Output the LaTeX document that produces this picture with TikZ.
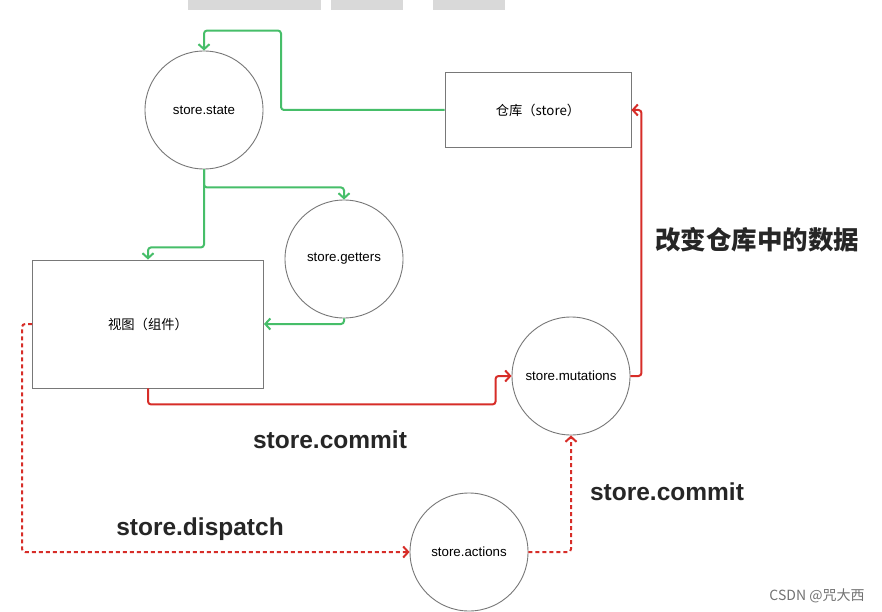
\documentclass[tikz,border=0pt]{standalone}
\usepackage{fontspec}
\setmainfont{Liberation Sans}
\newfontfamily\cjk{Noto Sans CJK SC}
\usetikzlibrary{positioning,arrows.meta}
\definecolor{flowgreen}{RGB}{70,190,105}
\definecolor{flowred}{RGB}{215,45,40}
\definecolor{edgegray}{RGB}{120,120,120}

\begin{document}
\begin{tikzpicture}[x=1pt, y=-1pt, semithick,
                    state/.style ={circle, draw=edgegray, line width=0.9pt, minimum size=118pt, inner sep=0pt, font=\fontsize{13.3}{15}\selectfont},
                    box/.style ={rectangle, draw=edgegray, line width=0.9pt, inner sep=0pt, font=\fontsize{13.3}{15}\selectfont},
                    getflow/.style ={draw=flowgreen, line width=2pt, rounded corners=3pt, -{Straight Barb[length=5pt,width=11pt]}},
                    setflow/.style ={draw=flowred, line width=2pt, rounded corners=3pt, -{Straight Barb[length=5pt,width=11pt]}},
                    callflow/.style ={setflow, dash pattern=on 4pt off 3pt},
                    tag/.style ={font=\fontsize{24.5}{27}\selectfont\bfseries, text=black!85}]

\useasboundingbox[fill=white] (0,0) rectangle (882,612);

% cut off header strips
\fill[black!15] (188,0) rectangle (321,10);
\fill[black!15] (331,0) rectangle (403,10);
\fill[black!15] (433,0) rectangle (505,10);

% store nodes
\node[state] (state) at (204,110) {store.state};
\node[box, minimum width=186pt, minimum height=75pt] (store) at (538,110) {\cjk 仓库（store）};
\node[state] (getters) at (344,259) {store.getters};
\node[state] (mutations) at (571,376) {store.mutations};
\node[state] (actions) at (469,552) {store.actions};

% view node
\node[box, minimum width=231pt, minimum height=128pt] (view) at (148,324) {\cjk 视图（组件）};

% labels
\node[tag, font=\fontsize{25.5}{28}\selectfont] (change) at (757,240) {\cjk\bfseries 改变仓库中的数据};
\node[tag] (commit) at (330,440) {store.commit};
\node[tag] (commit2) at (667,492) {store.commit};
\node[tag] (dispatch) at (200,529) {store.dispatch};
\node[text=black!55, font=\fontsize{14}{16}\selectfont\cjk] (mark) at (817,596) {CSDN @咒大西};

% read edges
\draw[getflow] (store.west) -| ([xshift=77pt, yshift=20pt]state.north) -| (state.north);
\draw[getflow] (state.south) -- ++(0,18) -| (getters.north);
\draw[getflow] (state.south) -- ++(0,78) -| (view.north);
\draw[getflow] (getters.south) |- (view.east);

% write edges
\draw[setflow] (view.south) -- ++(0,16) -| ([xshift=-16pt]mutations.west) -- (mutations.west);
\draw[setflow] (mutations.east) -- ++(11,0) |- (store.east);
\draw[callflow] (view.west) -- ++(-10,0) |- (actions.west);
\draw[callflow] (actions.east) -| (mutations.south);

\end{tikzpicture}
\end{document}
